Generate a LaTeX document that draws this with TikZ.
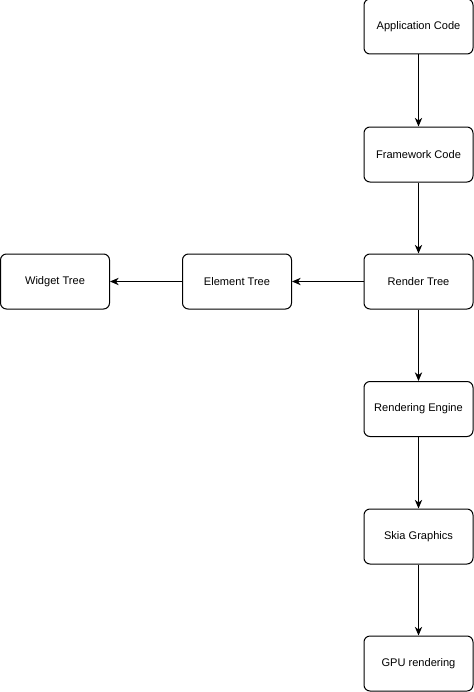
\documentclass[tikz,border=0pt]{standalone}
\usepackage{fontspec}
\setmainfont{Liberation Sans}
\usetikzlibrary{arrows.meta}

\tikzset{every picture/.style={line width=0.75pt}}
\tikzset{
  blk/.style={draw, rounded corners=4.5pt, minimum width=81.75pt, minimum height=41.25pt, inner sep=0.75pt, align=center, font=\fontsize{8.3}{10}\selectfont},
  arr/.style={-{Stealth[length=6.5pt, width=5.5pt, inset=2pt]}, color={rgb, 255:red, 0; green, 0; blue, 0 }}
}

\begin{document}
\begin{tikzpicture}[x=0.75pt,y=0.75pt,yscale=-1,xscale=1]
%set diagram left start at 0, and has height of 692
\useasboundingbox (0,0) rectangle (474,692);

%Rounded Rect [id:app] 
\node [blk] (app) at (418.5,26.5) {Application Code};
%Rounded Rect [id:fwk] 
\node [blk] (fwk) at (418.5,154.5) {Framework Code};
%Rounded Rect [id:rtree] 
\node [blk] (rtree) at (418.5,281.5) {Render Tree};
%Rounded Rect [id:etree] 
\node [blk] (etree) at (237,281.5) {Element Tree};
%Rounded Rect [id:wtree] 
\node [blk] (wtree) at (55,281.5) {Widget Tree};
%Rounded Rect [id:engine] 
\node [blk] (engine) at (418.5,409) {Rendering Engine};
%Rounded Rect [id:skia] 
\node [blk] (skia) at (418.5,536.5) {Skia Graphics};
%Rounded Rect [id:gpu] 
\node [blk] (gpu) at (418.5,663.5) {GPU rendering};

%Straight Lines
\draw [arr] (app) -- (fwk);
\draw [arr] (fwk) -- (rtree);
\draw [arr] (rtree) -- (etree);
\draw [arr] (etree) -- (wtree);
\draw [arr] (rtree) -- (engine);
\draw [arr] (engine) -- (skia);
\draw [arr] (skia) -- (gpu);

\end{tikzpicture}
\end{document}
